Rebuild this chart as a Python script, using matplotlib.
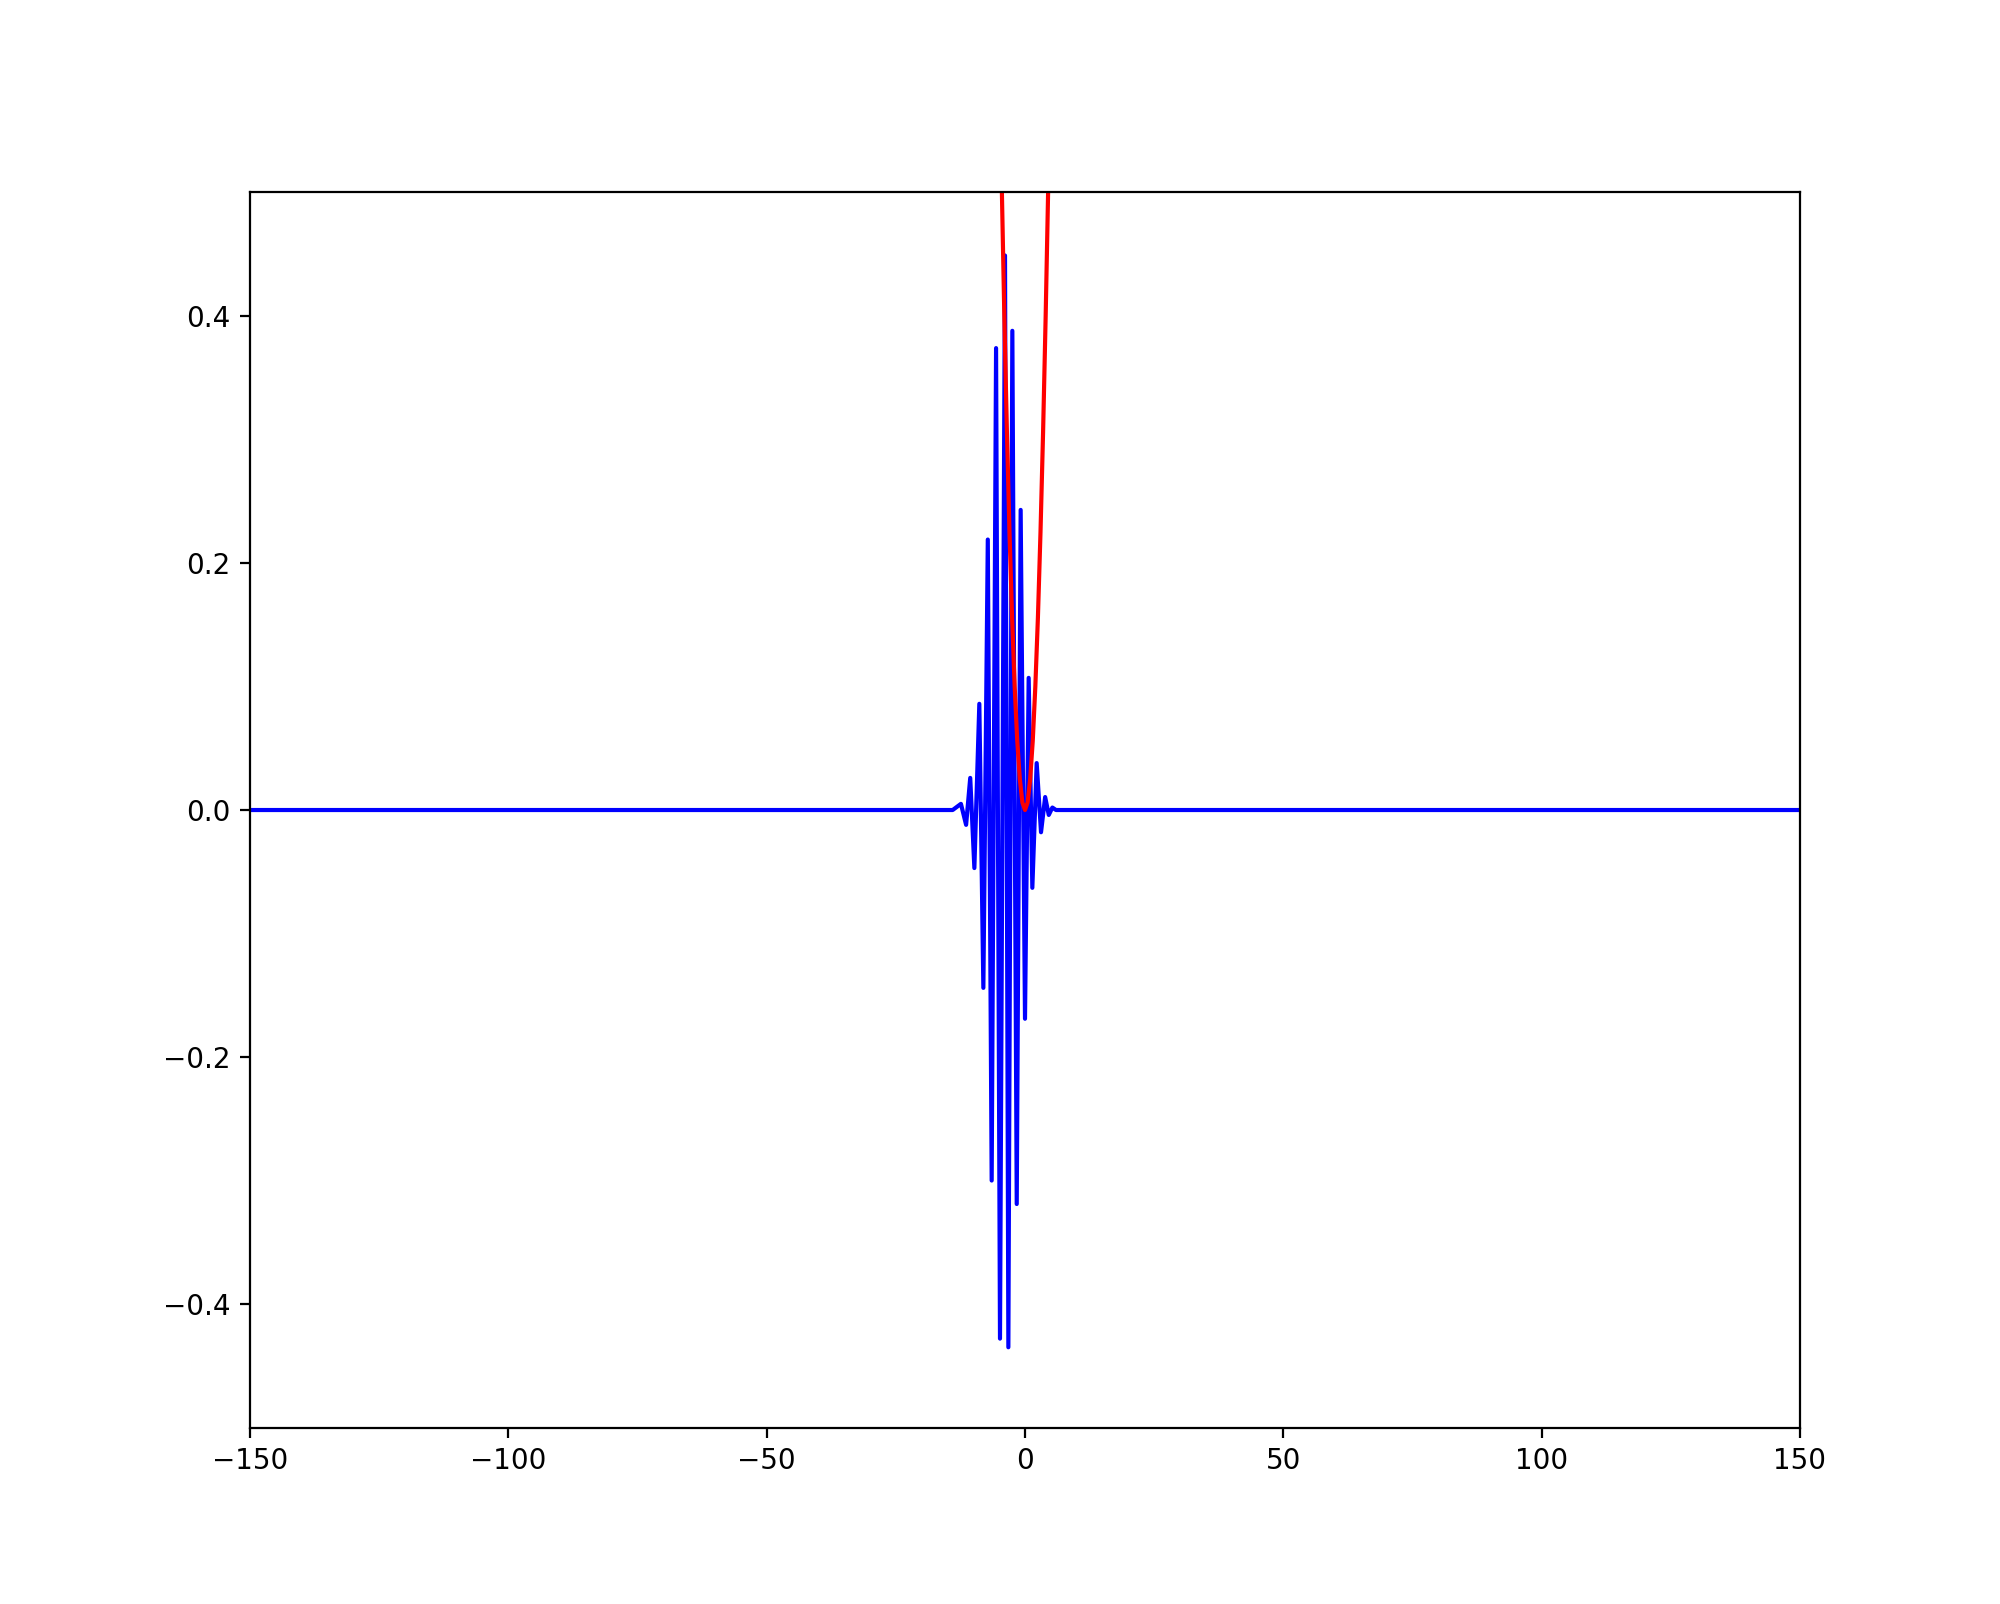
import matplotlib
matplotlib.use("Agg")
import matplotlib.pyplot as plt

# Wave packet (blue): extrema, with flat baseline
wave_x = [-150, -14.0, -12.4, -11.4, -10.6, -9.8, -8.84, -8.06, -7.2, -6.45, -5.6,
          -4.84, -3.87, -3.22, -2.45, -1.6, -0.84, 0.0, 0.71, 1.42, 2.26, 3.1,
          3.9, 4.6, 5.3, 6.0, 150]
wave_y = [0.0, 0.0, 0.005, -0.012, 0.026, -0.047, 0.086, -0.144, 0.219, -0.300, 0.374,
          -0.428, 0.449, -0.435, 0.388, -0.319, 0.243, -0.169, 0.107, -0.063, 0.038, -0.018,
          0.0105, -0.004, 0.002, 0.0, 0.0]

# Potential (red): points read along the parabola
pot_x = [-4.8, -4.5, -4.0, -3.5, -3.0, -2.5, -2.0, -1.5, -1.0, -0.5, 0.0,
         0.5, 1.0, 1.5, 2.0, 2.5, 3.0, 3.5, 4.0, 4.5, 4.8]
pot_y = [0.576, 0.506, 0.400, 0.306, 0.225, 0.156, 0.100, 0.056, 0.025, 0.006, 0.0,
         0.006, 0.025, 0.056, 0.100, 0.156, 0.225, 0.306, 0.400, 0.506, 0.576]

fig = plt.figure(figsize=(10, 8.02), dpi=200)
ax = fig.add_subplot(111)
ax.plot(wave_x, wave_y, color="blue", linewidth=1.5)
ax.plot(pot_x, pot_y, color="red", linewidth=1.5)
ax.set_xlim(-150, 150)
ax.set_ylim(-0.5, 0.5)
ax.set_xticks([-150, -100, -50, 0, 50, 100, 150])
ax.set_yticks([-0.4, -0.2, 0.0, 0.2, 0.4])
fig.savefig("out.png", dpi=200)
